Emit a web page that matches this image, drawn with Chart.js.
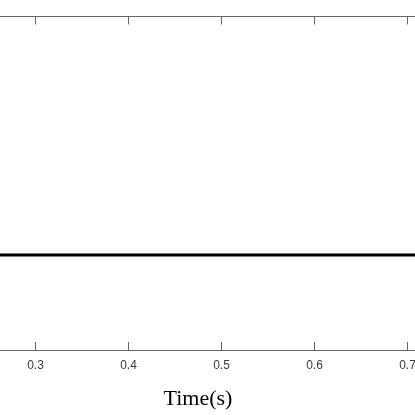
<!DOCTYPE html>
<html>
<head>
<meta charset="utf-8">
<script src="https://cdn.jsdelivr.net/npm/chart.js@4/dist/chart.umd.min.js"></script>
<style>
  html, body { margin: 0; padding: 0; background: #fff; overflow: hidden; width: 415px; height: 415px; }
  #wrap { position: absolute; left: -50px; top: 0; width: 500px; height: 420px; }
</style>
</head>
<body>
<div id="wrap"><canvas id="myChart" width="500" height="420"></canvas></div>
<script>
// the picture is a crop of a wider figure, so the plot runs past both edges
let timeVals = [0.2, 0.8];
let signal = [0, 0];
let xTicks = [0.3, 0.4, 0.5, 0.6, 0.7];

let xMin = 0.21882;
let xMax = 0.73065;

let ctx = document.getElementById('myChart');

let axisGrey = '#666';

new Chart(ctx, {
  type: 'line',
  data: {
    datasets: [{
      data: timeVals.map(function (t, i) { return { x: t, y: signal[i] }; }),
      borderColor: '#000',
      borderWidth: 3,
      pointRadius: 0,
      tension: 0
    }]
  },
  options: {
    responsive: false,
    animation: false,
    events: [],
    layout: { padding: { left: 10, right: 14, top: 24.5, bottom: 0 } },
    plugins: { legend: { display: false }, tooltip: { enabled: false } },
    scales: {
      x: {
        type: 'linear',
        position: 'bottom',
        min: xMin,
        max: xMax,
        afterBuildTicks: function (axis) {
          axis.ticks = xTicks.map(function (v) { return { value: v }; });
        },
        grid: { drawOnChartArea: false, tickLength: -8, color: axisGrey, lineWidth: 1 },
        border: { display: true, color: axisGrey, width: 1 },
        ticks: {
          padding: 16.4,
          maxRotation: 0,
          autoSkip: false,
          color: '#3a3a3a',
          font: { family: 'Liberation Sans, Arial, sans-serif', size: 12 },
          callback: function (v) { return v.toFixed(1); }
        },
        title: {
          display: true,
          text: 'Time(s)',
          color: '#000',
          padding: { top: 0, bottom: 3 },
          font: { family: 'Liberation Serif, Times New Roman, serif', size: 22, lineHeight: 0.9 }
        }
      },
      x2: {
        type: 'linear',
        position: 'top',
        min: xMin,
        max: xMax,
        afterBuildTicks: function (axis) {
          axis.ticks = xTicks.map(function (v) { return { value: v }; });
        },
        grid: { drawOnChartArea: false, tickLength: -8, color: axisGrey, lineWidth: 1 },
        border: { display: true, color: axisGrey, width: 1 },
        ticks: { display: false }
      },
      y: {
        display: false,
        min: -1,
        max: 2.24
      }
    }
  }
});
</script>
</body>
</html>
